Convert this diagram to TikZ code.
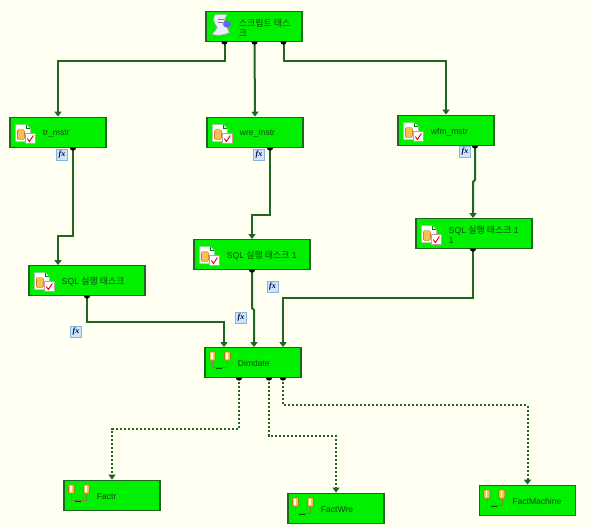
\documentclass[tikz,border=0pt]{standalone}
\usepackage{fontspec}
\setmainfont{Liberation Sans}
\newfontfamily\kofont{Noto Sans CJK KR}
\newfontfamily\fxfont{Liberation Serif}
\newcommand{\ko}[1]{{\kofont\fontsize{6.7}{7.4}\selectfont #1}}
\usetikzlibrary{arrows.meta}
\definecolor{canvas}{HTML}{FFFFF2}
\definecolor{boxgreen}{HTML}{00F000}
\definecolor{linegreen}{HTML}{1F661F}
\definecolor{textgreen}{HTML}{0B4A0B}
\definecolor{fxblue}{HTML}{CFE6FA}
\definecolor{fxline}{HTML}{86B4DC}
\definecolor{cyl}{HTML}{F7C050}
\definecolor{pipe}{HTML}{6E8F3A}
\tikzset{
bloc/.style={draw=linegreen,line width=.95pt,fill=boxgreen,minimum width=72pt,minimum height=23pt,inner sep=0pt},
wide/.style={bloc,minimum width=87pt},
boxtext/.style={anchor=west,xshift=25pt,yshift=-1pt,inner sep=0pt,align=left,text=textgreen,font=\fontsize{6.4}{7.2}\selectfont},
flux/.style={-{Triangle[length=3.6pt,width=5.2pt]},draw=linegreen,line width=1.5pt},
fluxdot/.style={flux,dash pattern=on 1.6pt off 1.4pt},
fxtag/.style={draw=fxline,line width=.4pt,fill=fxblue,minimum size=8pt,inner sep=0pt,text=black!70!blue,font=\fxfont\itshape\bfseries\fontsize{6}{6}\selectfont},
port/.pic={\fill[black] (-3.2,-.5)--(3.2,-.5) arc[start angle=0,end angle=180,radius=3.2]--cycle;},
sqlicon/.pic={
\draw[gray!60,fill=white,line width=.3pt] (6,8)--(17,8)--(21,12)--(21,25)--(6,25)--cycle;
\draw[green!50!black,line width=.4pt] (17,8)--(17,12)--(21,12);
\draw[orange!70!black,line width=.25pt,fill=cyl,rounded corners=1pt] (8,13) rectangle (15,23);
\draw[red!35!gray!60,line width=.35pt,fill=white] (15.5,17) rectangle (26,27);
\draw[red!90!black,line width=.7pt] (18,22)--(20,25)--(24,19);
},
flowicon/.pic={
\draw[pipe,line width=.55pt] (8,13)--(8,20.5)--(23,20.5)--(23,13);
\draw[green!30!black,line width=.7pt] (12,21.5)--(18,21.5);
\draw[orange!70!black,line width=.25pt,fill=cyl,rounded corners=1pt] (5,5) rectangle (11,14);
\draw[orange!70!black,line width=.25pt,fill=cyl,rounded corners=1pt] (20,5) rectangle (26,14);
\fill[white] (7,6.5) rectangle (8.5,12.5);
\fill[white] (22,6.5) rectangle (23.5,12.5);
},
scripticon/.pic={
\draw[gray!60,fill=blue!8,line width=.4pt] (10,4)--(22,4) .. controls (18,9) and (18,12) .. (21,16)--(24,22) .. controls (18,25) and (12,25) .. (7,24) .. controls (9,20) and (11,20) .. (12,17) .. controls (8,12) and (7,7) .. (10,4)--cycle;
\fill[blue!60!white] (21.5,13.5) ellipse (4 and 3.5);
\draw[gray,line width=.5pt] (13,9)--(19,9) (13,12)--(18,12);
},
}
\begin{document}
\begin{tikzpicture}[x=.75pt,y=-.75pt]
\useasboundingbox (0,0) rectangle (595,528);
\fill[canvas] (0,0) rectangle (592,528);
\node[bloc,label={[boxtext]west:{\ko{스크립트 태스}\\\ko{크}}}] (script) at (254,26.5) {};
\node[bloc,label={[boxtext]west:tr\_mstr}] (trmstr) at (58,132.5) {};
\node[bloc,label={[boxtext]west:wre\_mstr}] (wremstr) at (255,132.5) {};
\node[bloc,label={[boxtext]west:wfm\_mstr}] (wfmmstr) at (446,130.5) {};
\node[wide,label={[boxtext]west:{SQL \ko{실행 태스크}}}] (sqla) at (87,280.5) {};
\node[wide,label={[boxtext]west:{SQL \ko{실행 태스크} 1}}] (sqlb) at (252,254.5) {};
\node[wide,label={[boxtext]west:{SQL \ko{실행 태스크} 1\\1}}] (sqlc) at (474,233.5) {};
\node[bloc,label={[boxtext]west:Dimdate}] (dimdate) at (253,362.5) {};
\node[bloc,label={[boxtext]west:Factr}] (factr) at (112,495.5) {};
\node[bloc,label={[boxtext]west:FactWre}] (factwre) at (336,508.5) {};
\node[bloc,label={[boxtext]west:FactMachine}] (factmachine) at (527.5,500.5) {};
\pic at (script.north west) {scripticon};
\foreach \b in {trmstr,wremstr,wfmmstr,sqla,sqlb,sqlc} \pic at (\b.north west) {sqlicon};
\foreach \b in {dimdate,factr,factwre,factmachine} \pic at (\b.north west) {flowicon};
% ports on the box edges
\coordinate (scriptl) at (224.5,42);
\coordinate (scriptm) at (254.5,42);
\coordinate (scriptr) at (283.5,42);
\coordinate (trout) at (73,148);
\coordinate (wreout) at (270,148);
\coordinate (wfmout) at (475,146);
\coordinate (sqlaout) at (87,296);
\coordinate (sqlbout) at (252,270);
\coordinate (sqlcout) at (473,249);
\coordinate (dimoutl) at (239,378);
\coordinate (dimoutm) at (269,378);
\coordinate (dimoutr) at (283,378);
\coordinate (sqlain) at (58,265);
\coordinate (sqlbin) at (252,239);
\coordinate (sqlcin) at (473,218);
\coordinate (dimina) at (224,347);
\coordinate (diminb) at (254,347);
\coordinate (diminc) at (283,347);
\draw[flux] (scriptl)--(224.5,61)--(58,61)--(trmstr.north);
\draw[flux] (scriptm)--(wremstr.north);
\draw[flux] (scriptr)--(283.5,61)--(446,61)--(wfmmstr.north);
\draw[flux] (trout)--(73,236)--(58,236)--(sqlain);
\draw[flux] (wreout)--(270,215)--(252,215)--(sqlbin);
\draw[flux] (wfmout)--(475,180)--(473,182)--(sqlcin);
\draw[flux] (sqlaout)--(87,322)--(224,322)--(dimina);
\draw[flux] (sqlbout)--(252,308)--(254,310)--(diminb);
\draw[flux] (sqlcout)--(473,298)--(283,298)--(diminc);
\draw[fluxdot] (dimoutl)--(239,429)--(112,429)--(factr.north);
\draw[fluxdot] (dimoutm)--(269,436)--(336,436)--(factwre.north);
\draw[fluxdot] (dimoutr)--(283,405)--(527.5,405)--(factmachine.north);
\foreach \p in {scriptl,scriptm,scriptr,trout,wreout,wfmout,sqlaout,sqlbout,sqlcout,dimoutl,dimoutm,dimoutr} \pic at (\p) {port};
\node[fxtag] (fxa) at (62,154.5) {fx};
\node[fxtag] (fxb) at (259,154.5) {fx};
\node[fxtag] (fxc) at (465,151.5) {fx};
\node[fxtag] (fxd) at (76,332) {fx};
\node[fxtag] (fxe) at (241,318) {fx};
\node[fxtag] (fxf) at (272.5,287) {fx};
\end{tikzpicture}
\end{document}
